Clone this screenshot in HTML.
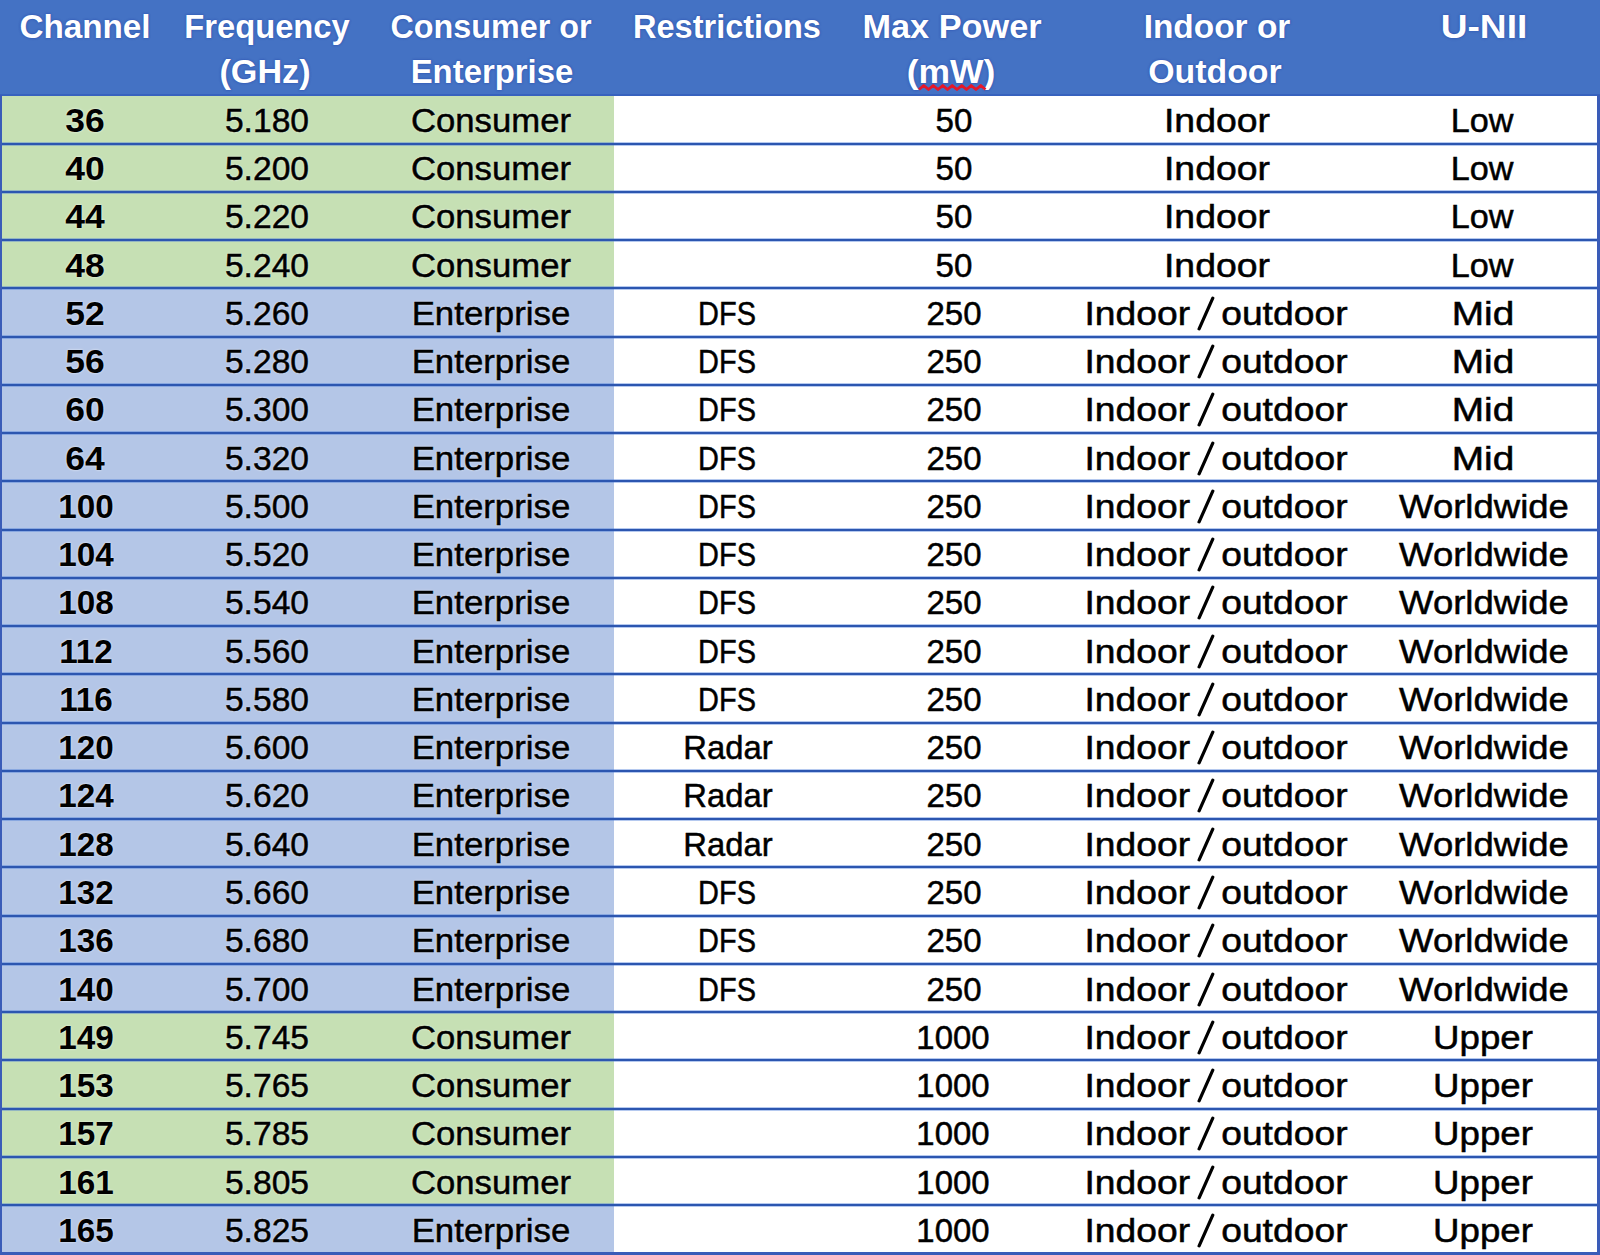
<!DOCTYPE html><html><head><meta charset="utf-8"><style>
html,body{margin:0;padding:0;width:1600px;height:1255px;overflow:hidden;background:#4472C4;}
.a{position:absolute;}
.t{position:absolute;white-space:nowrap;font-family:"Liberation Sans",sans-serif;font-size:33px;line-height:33px;height:33px;transform-origin:50% 50%;}
.h{color:#fff;font-weight:bold;text-shadow:0 0 1.5px rgba(25,55,160,0.55),0 0 3px rgba(25,55,160,0.3);}
.b{font-weight:bold;}
.d{color:#000;}
.r{-webkit-text-stroke:0.5px #000;}
.g{text-shadow:0 0 2px rgba(255,255,255,0.55),0 0 3px rgba(255,255,255,0.35);}
</style></head><body>

<div class="a" style="left:0;top:0;width:1600px;height:1255px;background:#4472C4"></div>
<div class="a" style="left:2px;top:96.00px;width:612px;height:48.00px;background:#C6E0B4"></div>
<div class="a" style="left:614px;top:96.00px;width:983px;height:48.00px;background:#fff"></div>
<div class="a" style="left:0;top:94.00px;width:1600px;height:2.00px;background:#3762BE"></div>
<div class="a" style="left:2px;top:143.50px;width:612px;height:48.76px;background:#C6E0B4"></div>
<div class="a" style="left:614px;top:143.50px;width:983px;height:48.76px;background:#fff"></div>
<div class="a" style="left:2px;top:191.76px;width:612px;height:48.76px;background:#C6E0B4"></div>
<div class="a" style="left:614px;top:191.76px;width:983px;height:48.76px;background:#fff"></div>
<div class="a" style="left:2px;top:240.02px;width:612px;height:48.76px;background:#C6E0B4"></div>
<div class="a" style="left:614px;top:240.02px;width:983px;height:48.76px;background:#fff"></div>
<div class="a" style="left:2px;top:288.28px;width:612px;height:48.76px;background:#B4C6E7"></div>
<div class="a" style="left:614px;top:288.28px;width:983px;height:48.76px;background:#fff"></div>
<div class="a" style="left:2px;top:336.54px;width:612px;height:48.76px;background:#B4C6E7"></div>
<div class="a" style="left:614px;top:336.54px;width:983px;height:48.76px;background:#fff"></div>
<div class="a" style="left:2px;top:384.80px;width:612px;height:48.76px;background:#B4C6E7"></div>
<div class="a" style="left:614px;top:384.80px;width:983px;height:48.76px;background:#fff"></div>
<div class="a" style="left:2px;top:433.06px;width:612px;height:48.76px;background:#B4C6E7"></div>
<div class="a" style="left:614px;top:433.06px;width:983px;height:48.76px;background:#fff"></div>
<div class="a" style="left:2px;top:481.32px;width:612px;height:48.76px;background:#B4C6E7"></div>
<div class="a" style="left:614px;top:481.32px;width:983px;height:48.76px;background:#fff"></div>
<div class="a" style="left:2px;top:529.58px;width:612px;height:48.76px;background:#B4C6E7"></div>
<div class="a" style="left:614px;top:529.58px;width:983px;height:48.76px;background:#fff"></div>
<div class="a" style="left:2px;top:577.84px;width:612px;height:48.76px;background:#B4C6E7"></div>
<div class="a" style="left:614px;top:577.84px;width:983px;height:48.76px;background:#fff"></div>
<div class="a" style="left:2px;top:626.10px;width:612px;height:48.76px;background:#B4C6E7"></div>
<div class="a" style="left:614px;top:626.10px;width:983px;height:48.76px;background:#fff"></div>
<div class="a" style="left:2px;top:674.36px;width:612px;height:48.76px;background:#B4C6E7"></div>
<div class="a" style="left:614px;top:674.36px;width:983px;height:48.76px;background:#fff"></div>
<div class="a" style="left:2px;top:722.62px;width:612px;height:48.76px;background:#B4C6E7"></div>
<div class="a" style="left:614px;top:722.62px;width:983px;height:48.76px;background:#fff"></div>
<div class="a" style="left:2px;top:770.88px;width:612px;height:48.76px;background:#B4C6E7"></div>
<div class="a" style="left:614px;top:770.88px;width:983px;height:48.76px;background:#fff"></div>
<div class="a" style="left:2px;top:819.14px;width:612px;height:48.76px;background:#B4C6E7"></div>
<div class="a" style="left:614px;top:819.14px;width:983px;height:48.76px;background:#fff"></div>
<div class="a" style="left:2px;top:867.40px;width:612px;height:48.76px;background:#B4C6E7"></div>
<div class="a" style="left:614px;top:867.40px;width:983px;height:48.76px;background:#fff"></div>
<div class="a" style="left:2px;top:915.66px;width:612px;height:48.76px;background:#B4C6E7"></div>
<div class="a" style="left:614px;top:915.66px;width:983px;height:48.76px;background:#fff"></div>
<div class="a" style="left:2px;top:963.92px;width:612px;height:48.76px;background:#B4C6E7"></div>
<div class="a" style="left:614px;top:963.92px;width:983px;height:48.76px;background:#fff"></div>
<div class="a" style="left:2px;top:1012.18px;width:612px;height:48.76px;background:#C6E0B4"></div>
<div class="a" style="left:614px;top:1012.18px;width:983px;height:48.76px;background:#fff"></div>
<div class="a" style="left:2px;top:1060.44px;width:612px;height:48.76px;background:#C6E0B4"></div>
<div class="a" style="left:614px;top:1060.44px;width:983px;height:48.76px;background:#fff"></div>
<div class="a" style="left:2px;top:1108.70px;width:612px;height:48.76px;background:#C6E0B4"></div>
<div class="a" style="left:614px;top:1108.70px;width:983px;height:48.76px;background:#fff"></div>
<div class="a" style="left:2px;top:1156.96px;width:612px;height:48.76px;background:#C6E0B4"></div>
<div class="a" style="left:614px;top:1156.96px;width:983px;height:48.76px;background:#fff"></div>
<div class="a" style="left:2px;top:1205.22px;width:612px;height:48.76px;background:#B4C6E7"></div>
<div class="a" style="left:614px;top:1205.22px;width:983px;height:48.76px;background:#fff"></div>
<div class="a" style="left:2px;top:142.50px;width:1595px;height:2px;background:#2C56B0;box-shadow:0 -1px 0 rgba(70,120,215,0.4),0 1px 0 rgba(70,120,215,0.4)"></div>
<div class="a" style="left:2px;top:190.76px;width:1595px;height:2px;background:#2C56B0;box-shadow:0 -1px 0 rgba(70,120,215,0.4),0 1px 0 rgba(70,120,215,0.4)"></div>
<div class="a" style="left:2px;top:239.02px;width:1595px;height:2px;background:#2C56B0;box-shadow:0 -1px 0 rgba(70,120,215,0.4),0 1px 0 rgba(70,120,215,0.4)"></div>
<div class="a" style="left:2px;top:287.28px;width:1595px;height:2px;background:#2C56B0;box-shadow:0 -1px 0 rgba(70,120,215,0.4),0 1px 0 rgba(70,120,215,0.4)"></div>
<div class="a" style="left:2px;top:335.54px;width:1595px;height:2px;background:#2C56B0;box-shadow:0 -1px 0 rgba(70,120,215,0.4),0 1px 0 rgba(70,120,215,0.4)"></div>
<div class="a" style="left:2px;top:383.80px;width:1595px;height:2px;background:#2C56B0;box-shadow:0 -1px 0 rgba(70,120,215,0.4),0 1px 0 rgba(70,120,215,0.4)"></div>
<div class="a" style="left:2px;top:432.06px;width:1595px;height:2px;background:#2C56B0;box-shadow:0 -1px 0 rgba(70,120,215,0.4),0 1px 0 rgba(70,120,215,0.4)"></div>
<div class="a" style="left:2px;top:480.32px;width:1595px;height:2px;background:#2C56B0;box-shadow:0 -1px 0 rgba(70,120,215,0.4),0 1px 0 rgba(70,120,215,0.4)"></div>
<div class="a" style="left:2px;top:528.58px;width:1595px;height:2px;background:#2C56B0;box-shadow:0 -1px 0 rgba(70,120,215,0.4),0 1px 0 rgba(70,120,215,0.4)"></div>
<div class="a" style="left:2px;top:576.84px;width:1595px;height:2px;background:#2C56B0;box-shadow:0 -1px 0 rgba(70,120,215,0.4),0 1px 0 rgba(70,120,215,0.4)"></div>
<div class="a" style="left:2px;top:625.10px;width:1595px;height:2px;background:#2C56B0;box-shadow:0 -1px 0 rgba(70,120,215,0.4),0 1px 0 rgba(70,120,215,0.4)"></div>
<div class="a" style="left:2px;top:673.36px;width:1595px;height:2px;background:#2C56B0;box-shadow:0 -1px 0 rgba(70,120,215,0.4),0 1px 0 rgba(70,120,215,0.4)"></div>
<div class="a" style="left:2px;top:721.62px;width:1595px;height:2px;background:#2C56B0;box-shadow:0 -1px 0 rgba(70,120,215,0.4),0 1px 0 rgba(70,120,215,0.4)"></div>
<div class="a" style="left:2px;top:769.88px;width:1595px;height:2px;background:#2C56B0;box-shadow:0 -1px 0 rgba(70,120,215,0.4),0 1px 0 rgba(70,120,215,0.4)"></div>
<div class="a" style="left:2px;top:818.14px;width:1595px;height:2px;background:#2C56B0;box-shadow:0 -1px 0 rgba(70,120,215,0.4),0 1px 0 rgba(70,120,215,0.4)"></div>
<div class="a" style="left:2px;top:866.40px;width:1595px;height:2px;background:#2C56B0;box-shadow:0 -1px 0 rgba(70,120,215,0.4),0 1px 0 rgba(70,120,215,0.4)"></div>
<div class="a" style="left:2px;top:914.66px;width:1595px;height:2px;background:#2C56B0;box-shadow:0 -1px 0 rgba(70,120,215,0.4),0 1px 0 rgba(70,120,215,0.4)"></div>
<div class="a" style="left:2px;top:962.92px;width:1595px;height:2px;background:#2C56B0;box-shadow:0 -1px 0 rgba(70,120,215,0.4),0 1px 0 rgba(70,120,215,0.4)"></div>
<div class="a" style="left:2px;top:1011.18px;width:1595px;height:2px;background:#2C56B0;box-shadow:0 -1px 0 rgba(70,120,215,0.4),0 1px 0 rgba(70,120,215,0.4)"></div>
<div class="a" style="left:2px;top:1059.44px;width:1595px;height:2px;background:#2C56B0;box-shadow:0 -1px 0 rgba(70,120,215,0.4),0 1px 0 rgba(70,120,215,0.4)"></div>
<div class="a" style="left:2px;top:1107.70px;width:1595px;height:2px;background:#2C56B0;box-shadow:0 -1px 0 rgba(70,120,215,0.4),0 1px 0 rgba(70,120,215,0.4)"></div>
<div class="a" style="left:2px;top:1155.96px;width:1595px;height:2px;background:#2C56B0;box-shadow:0 -1px 0 rgba(70,120,215,0.4),0 1px 0 rgba(70,120,215,0.4)"></div>
<div class="a" style="left:2px;top:1204.22px;width:1595px;height:2px;background:#2C56B0;box-shadow:0 -1px 0 rgba(70,120,215,0.4),0 1px 0 rgba(70,120,215,0.4)"></div>
<div class="a" style="left:0;top:1252px;width:1600px;height:3px;background:#3A5CB8"></div>
<div class="a" style="left:0;top:95.24px;width:2px;height:1159.76px;background:#3A5CB8"></div>
<div class="a" style="left:1597px;top:95.24px;width:3px;height:1159.76px;background:#3A5CB8"></div>
<div class="t h" style="left:84.50px;top:9.57px;width:400px;margin-left:-200px;text-align:center;transform:scaleX(1.0079)">Channel</div>
<div class="t h" style="left:266.70px;top:9.57px;width:400px;margin-left:-200px;text-align:center;transform:scaleX(0.9914)">Frequency</div>
<div class="t h" style="left:265.49px;top:55.17px;width:400px;margin-left:-200px;text-align:center;transform:scaleX(1.0353)">(GHz)</div>
<div class="t h" style="left:491.02px;top:9.57px;width:400px;margin-left:-200px;text-align:center;transform:scaleX(0.9784)">Consumer or</div>
<div class="t h" style="left:491.71px;top:55.17px;width:400px;margin-left:-200px;text-align:center;transform:scaleX(0.9963)">Enterprise</div>
<div class="t h" style="left:727.21px;top:9.57px;width:400px;margin-left:-200px;text-align:center;transform:scaleX(0.9850)">Restrictions</div>
<div class="t h" style="left:951.86px;top:9.57px;width:400px;margin-left:-200px;text-align:center;transform:scaleX(1.0389)">Max Power</div>
<div class="t h" style="left:951.36px;top:55.17px;width:400px;margin-left:-200px;text-align:center;transform:scaleX(1.0759)">(mW)</div>
<div class="t h" style="left:1217.07px;top:9.57px;width:400px;margin-left:-200px;text-align:center;transform:scaleX(1.0129)">Indoor or</div>
<div class="t h" style="left:1214.78px;top:55.17px;width:400px;margin-left:-200px;text-align:center;transform:scaleX(1.0252)">Outdoor</div>
<div class="t h" style="left:1483.70px;top:9.57px;width:400px;margin-left:-200px;text-align:center;transform:scaleX(1.1252)">U-NII</div>
<div class="t d b g" style="left:84.74px;top:103.82px;width:400px;margin-left:-200px;text-align:center;transform:scaleX(1.0740)">36</div>
<div class="t d r g" style="left:267.26px;top:103.82px;width:400px;margin-left:-200px;text-align:center;transform:scaleX(1.0189)">5.180</div>
<div class="t d r g" style="left:490.75px;top:103.82px;width:400px;margin-left:-200px;text-align:center;transform:scaleX(1.0507)">Consumer</div>
<div class="t d r" style="left:953.97px;top:103.82px;width:400px;margin-left:-200px;text-align:center;transform:scaleX(1.0026)">50</div>
<div class="t d r" style="left:1216.89px;top:103.82px;width:400px;margin-left:-200px;text-align:center;transform:scaleX(1.1340)">Indoor</div>
<div class="t d r" style="left:1482.46px;top:103.82px;width:400px;margin-left:-200px;text-align:center;transform:scaleX(1.0358)">Low</div>
<div class="t d b g" style="left:84.74px;top:152.08px;width:400px;margin-left:-200px;text-align:center;transform:scaleX(1.0740)">40</div>
<div class="t d r g" style="left:267.26px;top:152.08px;width:400px;margin-left:-200px;text-align:center;transform:scaleX(1.0189)">5.200</div>
<div class="t d r g" style="left:490.75px;top:152.08px;width:400px;margin-left:-200px;text-align:center;transform:scaleX(1.0507)">Consumer</div>
<div class="t d r" style="left:953.97px;top:152.08px;width:400px;margin-left:-200px;text-align:center;transform:scaleX(1.0026)">50</div>
<div class="t d r" style="left:1216.89px;top:152.08px;width:400px;margin-left:-200px;text-align:center;transform:scaleX(1.1340)">Indoor</div>
<div class="t d r" style="left:1482.46px;top:152.08px;width:400px;margin-left:-200px;text-align:center;transform:scaleX(1.0358)">Low</div>
<div class="t d b g" style="left:84.74px;top:200.34px;width:400px;margin-left:-200px;text-align:center;transform:scaleX(1.0740)">44</div>
<div class="t d r g" style="left:267.26px;top:200.34px;width:400px;margin-left:-200px;text-align:center;transform:scaleX(1.0189)">5.220</div>
<div class="t d r g" style="left:490.75px;top:200.34px;width:400px;margin-left:-200px;text-align:center;transform:scaleX(1.0507)">Consumer</div>
<div class="t d r" style="left:953.97px;top:200.34px;width:400px;margin-left:-200px;text-align:center;transform:scaleX(1.0026)">50</div>
<div class="t d r" style="left:1216.89px;top:200.34px;width:400px;margin-left:-200px;text-align:center;transform:scaleX(1.1340)">Indoor</div>
<div class="t d r" style="left:1482.46px;top:200.34px;width:400px;margin-left:-200px;text-align:center;transform:scaleX(1.0358)">Low</div>
<div class="t d b g" style="left:84.74px;top:248.60px;width:400px;margin-left:-200px;text-align:center;transform:scaleX(1.0740)">48</div>
<div class="t d r g" style="left:267.26px;top:248.60px;width:400px;margin-left:-200px;text-align:center;transform:scaleX(1.0189)">5.240</div>
<div class="t d r g" style="left:490.75px;top:248.60px;width:400px;margin-left:-200px;text-align:center;transform:scaleX(1.0507)">Consumer</div>
<div class="t d r" style="left:953.97px;top:248.60px;width:400px;margin-left:-200px;text-align:center;transform:scaleX(1.0026)">50</div>
<div class="t d r" style="left:1216.89px;top:248.60px;width:400px;margin-left:-200px;text-align:center;transform:scaleX(1.1340)">Indoor</div>
<div class="t d r" style="left:1482.46px;top:248.60px;width:400px;margin-left:-200px;text-align:center;transform:scaleX(1.0358)">Low</div>
<div class="t d b g" style="left:84.74px;top:296.86px;width:400px;margin-left:-200px;text-align:center;transform:scaleX(1.0740)">52</div>
<div class="t d r g" style="left:267.26px;top:296.86px;width:400px;margin-left:-200px;text-align:center;transform:scaleX(1.0189)">5.260</div>
<div class="t d r g" style="left:490.53px;top:296.86px;width:400px;margin-left:-200px;text-align:center;transform:scaleX(1.0553)">Enterprise</div>
<div class="t d r" style="left:726.87px;top:296.86px;width:400px;margin-left:-200px;text-align:center;transform:scaleX(0.8761)">DFS</div>
<div class="t d r" style="left:954.01px;top:296.86px;width:400px;margin-left:-200px;text-align:center;transform:scaleX(1.0003)">250</div>
<div class="t d r" style="left:1216.00px;top:296.86px;width:400px;margin-left:-200px;text-align:center;transform:scaleX(1.1292)">Indoor <span style="display:inline-block;position:relative;width:9.17px;height:0"><svg style="position:absolute;left:-4px;top:-30px;overflow:visible" width="18" height="40"><line x1="15.2" y1="3.0" x2="3.0" y2="34.0" stroke="#000" stroke-width="2.9" stroke-linecap="round"/></svg></span> outdoor</div>
<div class="t d r" style="left:1483.39px;top:296.86px;width:400px;margin-left:-200px;text-align:center;transform:scaleX(1.1754)">Mid</div>
<div class="t d b g" style="left:84.74px;top:345.12px;width:400px;margin-left:-200px;text-align:center;transform:scaleX(1.0740)">56</div>
<div class="t d r g" style="left:267.26px;top:345.12px;width:400px;margin-left:-200px;text-align:center;transform:scaleX(1.0189)">5.280</div>
<div class="t d r g" style="left:490.53px;top:345.12px;width:400px;margin-left:-200px;text-align:center;transform:scaleX(1.0553)">Enterprise</div>
<div class="t d r" style="left:726.87px;top:345.12px;width:400px;margin-left:-200px;text-align:center;transform:scaleX(0.8761)">DFS</div>
<div class="t d r" style="left:954.01px;top:345.12px;width:400px;margin-left:-200px;text-align:center;transform:scaleX(1.0003)">250</div>
<div class="t d r" style="left:1216.00px;top:345.12px;width:400px;margin-left:-200px;text-align:center;transform:scaleX(1.1292)">Indoor <span style="display:inline-block;position:relative;width:9.17px;height:0"><svg style="position:absolute;left:-4px;top:-30px;overflow:visible" width="18" height="40"><line x1="15.2" y1="3.0" x2="3.0" y2="34.0" stroke="#000" stroke-width="2.9" stroke-linecap="round"/></svg></span> outdoor</div>
<div class="t d r" style="left:1483.39px;top:345.12px;width:400px;margin-left:-200px;text-align:center;transform:scaleX(1.1754)">Mid</div>
<div class="t d b g" style="left:84.74px;top:393.38px;width:400px;margin-left:-200px;text-align:center;transform:scaleX(1.0740)">60</div>
<div class="t d r g" style="left:267.26px;top:393.38px;width:400px;margin-left:-200px;text-align:center;transform:scaleX(1.0189)">5.300</div>
<div class="t d r g" style="left:490.53px;top:393.38px;width:400px;margin-left:-200px;text-align:center;transform:scaleX(1.0553)">Enterprise</div>
<div class="t d r" style="left:726.87px;top:393.38px;width:400px;margin-left:-200px;text-align:center;transform:scaleX(0.8761)">DFS</div>
<div class="t d r" style="left:954.01px;top:393.38px;width:400px;margin-left:-200px;text-align:center;transform:scaleX(1.0003)">250</div>
<div class="t d r" style="left:1216.00px;top:393.38px;width:400px;margin-left:-200px;text-align:center;transform:scaleX(1.1292)">Indoor <span style="display:inline-block;position:relative;width:9.17px;height:0"><svg style="position:absolute;left:-4px;top:-30px;overflow:visible" width="18" height="40"><line x1="15.2" y1="3.0" x2="3.0" y2="34.0" stroke="#000" stroke-width="2.9" stroke-linecap="round"/></svg></span> outdoor</div>
<div class="t d r" style="left:1483.39px;top:393.38px;width:400px;margin-left:-200px;text-align:center;transform:scaleX(1.1754)">Mid</div>
<div class="t d b g" style="left:84.74px;top:441.64px;width:400px;margin-left:-200px;text-align:center;transform:scaleX(1.0740)">64</div>
<div class="t d r g" style="left:267.26px;top:441.64px;width:400px;margin-left:-200px;text-align:center;transform:scaleX(1.0189)">5.320</div>
<div class="t d r g" style="left:490.53px;top:441.64px;width:400px;margin-left:-200px;text-align:center;transform:scaleX(1.0553)">Enterprise</div>
<div class="t d r" style="left:726.87px;top:441.64px;width:400px;margin-left:-200px;text-align:center;transform:scaleX(0.8761)">DFS</div>
<div class="t d r" style="left:954.01px;top:441.64px;width:400px;margin-left:-200px;text-align:center;transform:scaleX(1.0003)">250</div>
<div class="t d r" style="left:1216.00px;top:441.64px;width:400px;margin-left:-200px;text-align:center;transform:scaleX(1.1292)">Indoor <span style="display:inline-block;position:relative;width:9.17px;height:0"><svg style="position:absolute;left:-4px;top:-30px;overflow:visible" width="18" height="40"><line x1="15.2" y1="3.0" x2="3.0" y2="34.0" stroke="#000" stroke-width="2.9" stroke-linecap="round"/></svg></span> outdoor</div>
<div class="t d r" style="left:1483.39px;top:441.64px;width:400px;margin-left:-200px;text-align:center;transform:scaleX(1.1754)">Mid</div>
<div class="t d b g" style="left:85.99px;top:489.90px;width:400px;margin-left:-200px;text-align:center;transform:scaleX(1.0080)">100</div>
<div class="t d r g" style="left:267.26px;top:489.90px;width:400px;margin-left:-200px;text-align:center;transform:scaleX(1.0189)">5.500</div>
<div class="t d r g" style="left:490.53px;top:489.90px;width:400px;margin-left:-200px;text-align:center;transform:scaleX(1.0553)">Enterprise</div>
<div class="t d r" style="left:726.87px;top:489.90px;width:400px;margin-left:-200px;text-align:center;transform:scaleX(0.8761)">DFS</div>
<div class="t d r" style="left:954.01px;top:489.90px;width:400px;margin-left:-200px;text-align:center;transform:scaleX(1.0003)">250</div>
<div class="t d r" style="left:1216.00px;top:489.90px;width:400px;margin-left:-200px;text-align:center;transform:scaleX(1.1292)">Indoor <span style="display:inline-block;position:relative;width:9.17px;height:0"><svg style="position:absolute;left:-4px;top:-30px;overflow:visible" width="18" height="40"><line x1="15.2" y1="3.0" x2="3.0" y2="34.0" stroke="#000" stroke-width="2.9" stroke-linecap="round"/></svg></span> outdoor</div>
<div class="t d r" style="left:1484.04px;top:489.90px;width:400px;margin-left:-200px;text-align:center;transform:scaleX(1.1061)">Worldwide</div>
<div class="t d b g" style="left:85.99px;top:538.16px;width:400px;margin-left:-200px;text-align:center;transform:scaleX(1.0080)">104</div>
<div class="t d r g" style="left:267.26px;top:538.16px;width:400px;margin-left:-200px;text-align:center;transform:scaleX(1.0189)">5.520</div>
<div class="t d r g" style="left:490.53px;top:538.16px;width:400px;margin-left:-200px;text-align:center;transform:scaleX(1.0553)">Enterprise</div>
<div class="t d r" style="left:726.87px;top:538.16px;width:400px;margin-left:-200px;text-align:center;transform:scaleX(0.8761)">DFS</div>
<div class="t d r" style="left:954.01px;top:538.16px;width:400px;margin-left:-200px;text-align:center;transform:scaleX(1.0003)">250</div>
<div class="t d r" style="left:1216.00px;top:538.16px;width:400px;margin-left:-200px;text-align:center;transform:scaleX(1.1292)">Indoor <span style="display:inline-block;position:relative;width:9.17px;height:0"><svg style="position:absolute;left:-4px;top:-30px;overflow:visible" width="18" height="40"><line x1="15.2" y1="3.0" x2="3.0" y2="34.0" stroke="#000" stroke-width="2.9" stroke-linecap="round"/></svg></span> outdoor</div>
<div class="t d r" style="left:1484.04px;top:538.16px;width:400px;margin-left:-200px;text-align:center;transform:scaleX(1.1061)">Worldwide</div>
<div class="t d b g" style="left:85.99px;top:586.42px;width:400px;margin-left:-200px;text-align:center;transform:scaleX(1.0080)">108</div>
<div class="t d r g" style="left:267.26px;top:586.42px;width:400px;margin-left:-200px;text-align:center;transform:scaleX(1.0189)">5.540</div>
<div class="t d r g" style="left:490.53px;top:586.42px;width:400px;margin-left:-200px;text-align:center;transform:scaleX(1.0553)">Enterprise</div>
<div class="t d r" style="left:726.87px;top:586.42px;width:400px;margin-left:-200px;text-align:center;transform:scaleX(0.8761)">DFS</div>
<div class="t d r" style="left:954.01px;top:586.42px;width:400px;margin-left:-200px;text-align:center;transform:scaleX(1.0003)">250</div>
<div class="t d r" style="left:1216.00px;top:586.42px;width:400px;margin-left:-200px;text-align:center;transform:scaleX(1.1292)">Indoor <span style="display:inline-block;position:relative;width:9.17px;height:0"><svg style="position:absolute;left:-4px;top:-30px;overflow:visible" width="18" height="40"><line x1="15.2" y1="3.0" x2="3.0" y2="34.0" stroke="#000" stroke-width="2.9" stroke-linecap="round"/></svg></span> outdoor</div>
<div class="t d r" style="left:1484.04px;top:586.42px;width:400px;margin-left:-200px;text-align:center;transform:scaleX(1.1061)">Worldwide</div>
<div class="t d b g" style="left:85.99px;top:634.68px;width:400px;margin-left:-200px;text-align:center;transform:scaleX(1.0080)">112</div>
<div class="t d r g" style="left:267.26px;top:634.68px;width:400px;margin-left:-200px;text-align:center;transform:scaleX(1.0189)">5.560</div>
<div class="t d r g" style="left:490.53px;top:634.68px;width:400px;margin-left:-200px;text-align:center;transform:scaleX(1.0553)">Enterprise</div>
<div class="t d r" style="left:726.87px;top:634.68px;width:400px;margin-left:-200px;text-align:center;transform:scaleX(0.8761)">DFS</div>
<div class="t d r" style="left:954.01px;top:634.68px;width:400px;margin-left:-200px;text-align:center;transform:scaleX(1.0003)">250</div>
<div class="t d r" style="left:1216.00px;top:634.68px;width:400px;margin-left:-200px;text-align:center;transform:scaleX(1.1292)">Indoor <span style="display:inline-block;position:relative;width:9.17px;height:0"><svg style="position:absolute;left:-4px;top:-30px;overflow:visible" width="18" height="40"><line x1="15.2" y1="3.0" x2="3.0" y2="34.0" stroke="#000" stroke-width="2.9" stroke-linecap="round"/></svg></span> outdoor</div>
<div class="t d r" style="left:1484.04px;top:634.68px;width:400px;margin-left:-200px;text-align:center;transform:scaleX(1.1061)">Worldwide</div>
<div class="t d b g" style="left:85.99px;top:682.94px;width:400px;margin-left:-200px;text-align:center;transform:scaleX(1.0080)">116</div>
<div class="t d r g" style="left:267.26px;top:682.94px;width:400px;margin-left:-200px;text-align:center;transform:scaleX(1.0189)">5.580</div>
<div class="t d r g" style="left:490.53px;top:682.94px;width:400px;margin-left:-200px;text-align:center;transform:scaleX(1.0553)">Enterprise</div>
<div class="t d r" style="left:726.87px;top:682.94px;width:400px;margin-left:-200px;text-align:center;transform:scaleX(0.8761)">DFS</div>
<div class="t d r" style="left:954.01px;top:682.94px;width:400px;margin-left:-200px;text-align:center;transform:scaleX(1.0003)">250</div>
<div class="t d r" style="left:1216.00px;top:682.94px;width:400px;margin-left:-200px;text-align:center;transform:scaleX(1.1292)">Indoor <span style="display:inline-block;position:relative;width:9.17px;height:0"><svg style="position:absolute;left:-4px;top:-30px;overflow:visible" width="18" height="40"><line x1="15.2" y1="3.0" x2="3.0" y2="34.0" stroke="#000" stroke-width="2.9" stroke-linecap="round"/></svg></span> outdoor</div>
<div class="t d r" style="left:1484.04px;top:682.94px;width:400px;margin-left:-200px;text-align:center;transform:scaleX(1.1061)">Worldwide</div>
<div class="t d b g" style="left:85.99px;top:731.20px;width:400px;margin-left:-200px;text-align:center;transform:scaleX(1.0080)">120</div>
<div class="t d r g" style="left:267.26px;top:731.20px;width:400px;margin-left:-200px;text-align:center;transform:scaleX(1.0189)">5.600</div>
<div class="t d r g" style="left:490.53px;top:731.20px;width:400px;margin-left:-200px;text-align:center;transform:scaleX(1.0553)">Enterprise</div>
<div class="t d r" style="left:727.70px;top:731.20px;width:400px;margin-left:-200px;text-align:center;transform:scaleX(0.9935)">Radar</div>
<div class="t d r" style="left:954.01px;top:731.20px;width:400px;margin-left:-200px;text-align:center;transform:scaleX(1.0003)">250</div>
<div class="t d r" style="left:1216.00px;top:731.20px;width:400px;margin-left:-200px;text-align:center;transform:scaleX(1.1292)">Indoor <span style="display:inline-block;position:relative;width:9.17px;height:0"><svg style="position:absolute;left:-4px;top:-30px;overflow:visible" width="18" height="40"><line x1="15.2" y1="3.0" x2="3.0" y2="34.0" stroke="#000" stroke-width="2.9" stroke-linecap="round"/></svg></span> outdoor</div>
<div class="t d r" style="left:1484.04px;top:731.20px;width:400px;margin-left:-200px;text-align:center;transform:scaleX(1.1061)">Worldwide</div>
<div class="t d b g" style="left:85.99px;top:779.46px;width:400px;margin-left:-200px;text-align:center;transform:scaleX(1.0080)">124</div>
<div class="t d r g" style="left:267.26px;top:779.46px;width:400px;margin-left:-200px;text-align:center;transform:scaleX(1.0189)">5.620</div>
<div class="t d r g" style="left:490.53px;top:779.46px;width:400px;margin-left:-200px;text-align:center;transform:scaleX(1.0553)">Enterprise</div>
<div class="t d r" style="left:727.70px;top:779.46px;width:400px;margin-left:-200px;text-align:center;transform:scaleX(0.9935)">Radar</div>
<div class="t d r" style="left:954.01px;top:779.46px;width:400px;margin-left:-200px;text-align:center;transform:scaleX(1.0003)">250</div>
<div class="t d r" style="left:1216.00px;top:779.46px;width:400px;margin-left:-200px;text-align:center;transform:scaleX(1.1292)">Indoor <span style="display:inline-block;position:relative;width:9.17px;height:0"><svg style="position:absolute;left:-4px;top:-30px;overflow:visible" width="18" height="40"><line x1="15.2" y1="3.0" x2="3.0" y2="34.0" stroke="#000" stroke-width="2.9" stroke-linecap="round"/></svg></span> outdoor</div>
<div class="t d r" style="left:1484.04px;top:779.46px;width:400px;margin-left:-200px;text-align:center;transform:scaleX(1.1061)">Worldwide</div>
<div class="t d b g" style="left:85.99px;top:827.72px;width:400px;margin-left:-200px;text-align:center;transform:scaleX(1.0080)">128</div>
<div class="t d r g" style="left:267.26px;top:827.72px;width:400px;margin-left:-200px;text-align:center;transform:scaleX(1.0189)">5.640</div>
<div class="t d r g" style="left:490.53px;top:827.72px;width:400px;margin-left:-200px;text-align:center;transform:scaleX(1.0553)">Enterprise</div>
<div class="t d r" style="left:727.70px;top:827.72px;width:400px;margin-left:-200px;text-align:center;transform:scaleX(0.9935)">Radar</div>
<div class="t d r" style="left:954.01px;top:827.72px;width:400px;margin-left:-200px;text-align:center;transform:scaleX(1.0003)">250</div>
<div class="t d r" style="left:1216.00px;top:827.72px;width:400px;margin-left:-200px;text-align:center;transform:scaleX(1.1292)">Indoor <span style="display:inline-block;position:relative;width:9.17px;height:0"><svg style="position:absolute;left:-4px;top:-30px;overflow:visible" width="18" height="40"><line x1="15.2" y1="3.0" x2="3.0" y2="34.0" stroke="#000" stroke-width="2.9" stroke-linecap="round"/></svg></span> outdoor</div>
<div class="t d r" style="left:1484.04px;top:827.72px;width:400px;margin-left:-200px;text-align:center;transform:scaleX(1.1061)">Worldwide</div>
<div class="t d b g" style="left:85.99px;top:875.98px;width:400px;margin-left:-200px;text-align:center;transform:scaleX(1.0080)">132</div>
<div class="t d r g" style="left:267.26px;top:875.98px;width:400px;margin-left:-200px;text-align:center;transform:scaleX(1.0189)">5.660</div>
<div class="t d r g" style="left:490.53px;top:875.98px;width:400px;margin-left:-200px;text-align:center;transform:scaleX(1.0553)">Enterprise</div>
<div class="t d r" style="left:726.87px;top:875.98px;width:400px;margin-left:-200px;text-align:center;transform:scaleX(0.8761)">DFS</div>
<div class="t d r" style="left:954.01px;top:875.98px;width:400px;margin-left:-200px;text-align:center;transform:scaleX(1.0003)">250</div>
<div class="t d r" style="left:1216.00px;top:875.98px;width:400px;margin-left:-200px;text-align:center;transform:scaleX(1.1292)">Indoor <span style="display:inline-block;position:relative;width:9.17px;height:0"><svg style="position:absolute;left:-4px;top:-30px;overflow:visible" width="18" height="40"><line x1="15.2" y1="3.0" x2="3.0" y2="34.0" stroke="#000" stroke-width="2.9" stroke-linecap="round"/></svg></span> outdoor</div>
<div class="t d r" style="left:1484.04px;top:875.98px;width:400px;margin-left:-200px;text-align:center;transform:scaleX(1.1061)">Worldwide</div>
<div class="t d b g" style="left:85.99px;top:924.24px;width:400px;margin-left:-200px;text-align:center;transform:scaleX(1.0080)">136</div>
<div class="t d r g" style="left:267.26px;top:924.24px;width:400px;margin-left:-200px;text-align:center;transform:scaleX(1.0189)">5.680</div>
<div class="t d r g" style="left:490.53px;top:924.24px;width:400px;margin-left:-200px;text-align:center;transform:scaleX(1.0553)">Enterprise</div>
<div class="t d r" style="left:726.87px;top:924.24px;width:400px;margin-left:-200px;text-align:center;transform:scaleX(0.8761)">DFS</div>
<div class="t d r" style="left:954.01px;top:924.24px;width:400px;margin-left:-200px;text-align:center;transform:scaleX(1.0003)">250</div>
<div class="t d r" style="left:1216.00px;top:924.24px;width:400px;margin-left:-200px;text-align:center;transform:scaleX(1.1292)">Indoor <span style="display:inline-block;position:relative;width:9.17px;height:0"><svg style="position:absolute;left:-4px;top:-30px;overflow:visible" width="18" height="40"><line x1="15.2" y1="3.0" x2="3.0" y2="34.0" stroke="#000" stroke-width="2.9" stroke-linecap="round"/></svg></span> outdoor</div>
<div class="t d r" style="left:1484.04px;top:924.24px;width:400px;margin-left:-200px;text-align:center;transform:scaleX(1.1061)">Worldwide</div>
<div class="t d b g" style="left:85.99px;top:972.50px;width:400px;margin-left:-200px;text-align:center;transform:scaleX(1.0080)">140</div>
<div class="t d r g" style="left:267.26px;top:972.50px;width:400px;margin-left:-200px;text-align:center;transform:scaleX(1.0189)">5.700</div>
<div class="t d r g" style="left:490.53px;top:972.50px;width:400px;margin-left:-200px;text-align:center;transform:scaleX(1.0553)">Enterprise</div>
<div class="t d r" style="left:726.87px;top:972.50px;width:400px;margin-left:-200px;text-align:center;transform:scaleX(0.8761)">DFS</div>
<div class="t d r" style="left:954.01px;top:972.50px;width:400px;margin-left:-200px;text-align:center;transform:scaleX(1.0003)">250</div>
<div class="t d r" style="left:1216.00px;top:972.50px;width:400px;margin-left:-200px;text-align:center;transform:scaleX(1.1292)">Indoor <span style="display:inline-block;position:relative;width:9.17px;height:0"><svg style="position:absolute;left:-4px;top:-30px;overflow:visible" width="18" height="40"><line x1="15.2" y1="3.0" x2="3.0" y2="34.0" stroke="#000" stroke-width="2.9" stroke-linecap="round"/></svg></span> outdoor</div>
<div class="t d r" style="left:1484.04px;top:972.50px;width:400px;margin-left:-200px;text-align:center;transform:scaleX(1.1061)">Worldwide</div>
<div class="t d b g" style="left:85.99px;top:1020.76px;width:400px;margin-left:-200px;text-align:center;transform:scaleX(1.0080)">149</div>
<div class="t d r g" style="left:267.26px;top:1020.76px;width:400px;margin-left:-200px;text-align:center;transform:scaleX(1.0189)">5.745</div>
<div class="t d r g" style="left:490.75px;top:1020.76px;width:400px;margin-left:-200px;text-align:center;transform:scaleX(1.0507)">Consumer</div>
<div class="t d r" style="left:952.50px;top:1020.76px;width:400px;margin-left:-200px;text-align:center;transform:scaleX(0.9975)">1000</div>
<div class="t d r" style="left:1216.00px;top:1020.76px;width:400px;margin-left:-200px;text-align:center;transform:scaleX(1.1292)">Indoor <span style="display:inline-block;position:relative;width:9.17px;height:0"><svg style="position:absolute;left:-4px;top:-30px;overflow:visible" width="18" height="40"><line x1="15.2" y1="3.0" x2="3.0" y2="34.0" stroke="#000" stroke-width="2.9" stroke-linecap="round"/></svg></span> outdoor</div>
<div class="t d r" style="left:1483.29px;top:1020.76px;width:400px;margin-left:-200px;text-align:center;transform:scaleX(1.1118)">Upper</div>
<div class="t d b g" style="left:85.99px;top:1069.02px;width:400px;margin-left:-200px;text-align:center;transform:scaleX(1.0080)">153</div>
<div class="t d r g" style="left:267.26px;top:1069.02px;width:400px;margin-left:-200px;text-align:center;transform:scaleX(1.0189)">5.765</div>
<div class="t d r g" style="left:490.75px;top:1069.02px;width:400px;margin-left:-200px;text-align:center;transform:scaleX(1.0507)">Consumer</div>
<div class="t d r" style="left:952.50px;top:1069.02px;width:400px;margin-left:-200px;text-align:center;transform:scaleX(0.9975)">1000</div>
<div class="t d r" style="left:1216.00px;top:1069.02px;width:400px;margin-left:-200px;text-align:center;transform:scaleX(1.1292)">Indoor <span style="display:inline-block;position:relative;width:9.17px;height:0"><svg style="position:absolute;left:-4px;top:-30px;overflow:visible" width="18" height="40"><line x1="15.2" y1="3.0" x2="3.0" y2="34.0" stroke="#000" stroke-width="2.9" stroke-linecap="round"/></svg></span> outdoor</div>
<div class="t d r" style="left:1483.29px;top:1069.02px;width:400px;margin-left:-200px;text-align:center;transform:scaleX(1.1118)">Upper</div>
<div class="t d b g" style="left:85.99px;top:1117.28px;width:400px;margin-left:-200px;text-align:center;transform:scaleX(1.0080)">157</div>
<div class="t d r g" style="left:267.26px;top:1117.28px;width:400px;margin-left:-200px;text-align:center;transform:scaleX(1.0189)">5.785</div>
<div class="t d r g" style="left:490.75px;top:1117.28px;width:400px;margin-left:-200px;text-align:center;transform:scaleX(1.0507)">Consumer</div>
<div class="t d r" style="left:952.50px;top:1117.28px;width:400px;margin-left:-200px;text-align:center;transform:scaleX(0.9975)">1000</div>
<div class="t d r" style="left:1216.00px;top:1117.28px;width:400px;margin-left:-200px;text-align:center;transform:scaleX(1.1292)">Indoor <span style="display:inline-block;position:relative;width:9.17px;height:0"><svg style="position:absolute;left:-4px;top:-30px;overflow:visible" width="18" height="40"><line x1="15.2" y1="3.0" x2="3.0" y2="34.0" stroke="#000" stroke-width="2.9" stroke-linecap="round"/></svg></span> outdoor</div>
<div class="t d r" style="left:1483.29px;top:1117.28px;width:400px;margin-left:-200px;text-align:center;transform:scaleX(1.1118)">Upper</div>
<div class="t d b g" style="left:85.99px;top:1165.54px;width:400px;margin-left:-200px;text-align:center;transform:scaleX(1.0080)">161</div>
<div class="t d r g" style="left:267.26px;top:1165.54px;width:400px;margin-left:-200px;text-align:center;transform:scaleX(1.0189)">5.805</div>
<div class="t d r g" style="left:490.75px;top:1165.54px;width:400px;margin-left:-200px;text-align:center;transform:scaleX(1.0507)">Consumer</div>
<div class="t d r" style="left:952.50px;top:1165.54px;width:400px;margin-left:-200px;text-align:center;transform:scaleX(0.9975)">1000</div>
<div class="t d r" style="left:1216.00px;top:1165.54px;width:400px;margin-left:-200px;text-align:center;transform:scaleX(1.1292)">Indoor <span style="display:inline-block;position:relative;width:9.17px;height:0"><svg style="position:absolute;left:-4px;top:-30px;overflow:visible" width="18" height="40"><line x1="15.2" y1="3.0" x2="3.0" y2="34.0" stroke="#000" stroke-width="2.9" stroke-linecap="round"/></svg></span> outdoor</div>
<div class="t d r" style="left:1483.29px;top:1165.54px;width:400px;margin-left:-200px;text-align:center;transform:scaleX(1.1118)">Upper</div>
<div class="t d b g" style="left:85.99px;top:1213.80px;width:400px;margin-left:-200px;text-align:center;transform:scaleX(1.0080)">165</div>
<div class="t d r g" style="left:267.26px;top:1213.80px;width:400px;margin-left:-200px;text-align:center;transform:scaleX(1.0189)">5.825</div>
<div class="t d r g" style="left:490.53px;top:1213.80px;width:400px;margin-left:-200px;text-align:center;transform:scaleX(1.0553)">Enterprise</div>
<div class="t d r" style="left:952.50px;top:1213.80px;width:400px;margin-left:-200px;text-align:center;transform:scaleX(0.9975)">1000</div>
<div class="t d r" style="left:1216.00px;top:1213.80px;width:400px;margin-left:-200px;text-align:center;transform:scaleX(1.1292)">Indoor <span style="display:inline-block;position:relative;width:9.17px;height:0"><svg style="position:absolute;left:-4px;top:-30px;overflow:visible" width="18" height="40"><line x1="15.2" y1="3.0" x2="3.0" y2="34.0" stroke="#000" stroke-width="2.9" stroke-linecap="round"/></svg></span> outdoor</div>
<div class="t d r" style="left:1483.29px;top:1213.80px;width:400px;margin-left:-200px;text-align:center;transform:scaleX(1.1118)">Upper</div>
<svg class="a" style="left:0;top:0" width="1600" height="100"><polyline points="919.0,89.5 923.8,85.5 928.5,89.5 933.2,85.5 938.0,89.5 942.8,85.5 947.5,89.5 952.2,85.5 957.0,89.5 961.8,85.5 966.5,89.5 971.2,85.5 976.0,89.5 980.8,85.5 985.5,89.5" fill="none" stroke="#E4182A" stroke-width="2.8" stroke-linejoin="round"/></svg>
</body></html>
